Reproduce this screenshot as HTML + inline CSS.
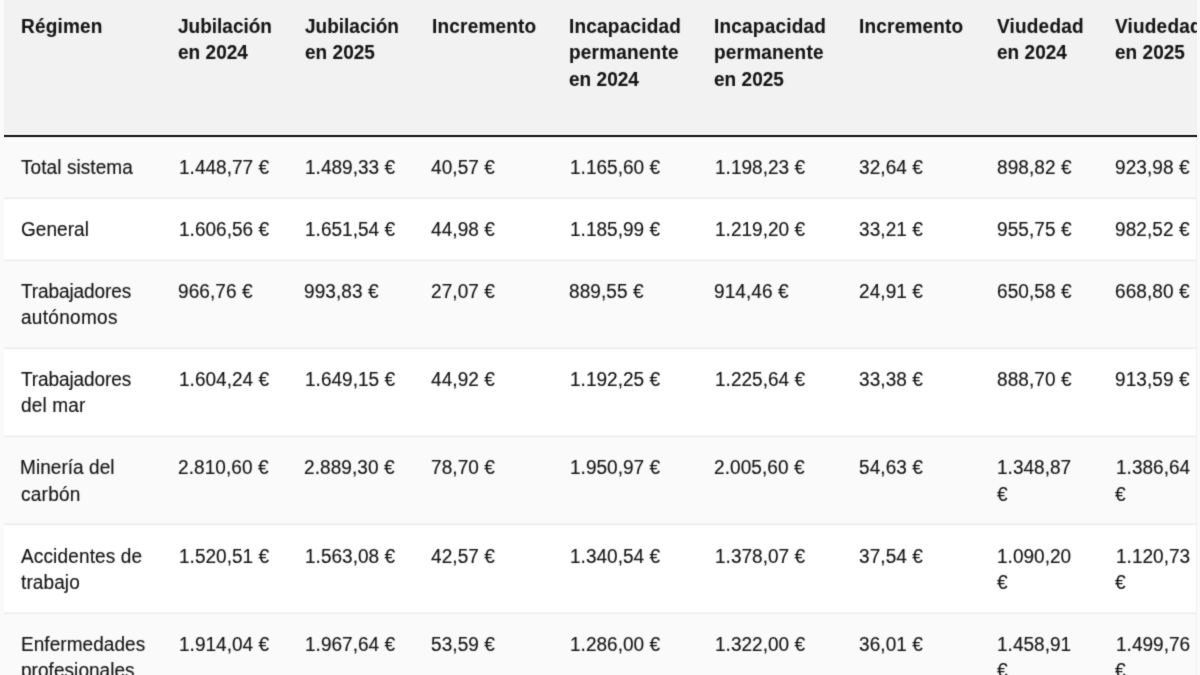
<!DOCTYPE html>
<html lang="es"><head><meta charset="utf-8"><title>Pensiones 2024-2025</title>
<style>
html,body{margin:0;padding:0;}
body{width:1200px;height:675px;overflow:hidden;background:#fafafa;position:relative;
font-family:"Liberation Sans",sans-serif;font-size:19.5px;line-height:28px;color:#141414;}
#t{position:absolute;left:4px;top:0;width:1193px;height:675px;overflow:hidden;background:#fff;filter:url(#soft);}
.hd{position:absolute;left:0;top:0;width:100%;height:131px;background:#f2f2f2;}
.rg{position:absolute;left:0;top:131px;width:100%;height:11px;background:linear-gradient(to bottom,#f6f6f6 0px,#f6f6f6 1px,#ececec 1px,#ececec 2px,#fdfdfd 2px,#fdfdfd 4px,#0a0a0a 4px,#0a0a0a 6px,#ffffff 6px,#ffffff 8px,#fcfcfc 8px,#fbfbfb 11px);}
.r{position:absolute;left:0;width:100%;}
.o{background:#fafafa;}
.e{background:#ffffff;}
.b{position:absolute;left:0;width:100%;height:3px;background:linear-gradient(to bottom,rgba(234,234,234,0) 0%,#eaeaea 38%,#eaeaea 62%,rgba(234,234,234,0) 100%);}
.rb{position:absolute;right:0;top:137px;width:1px;height:540px;background:#f2f2f2;}
.c{position:absolute;white-space:nowrap;height:28px;-webkit-text-stroke:0.15px #141414;transform:scaleX(0.9744);transform-origin:0 0;}
.h{font-weight:bold;color:#141414;-webkit-text-stroke:0.1px #141414;}

</style></head><body>
<svg width="0" height="0" style="position:absolute"><defs><filter id="soft" x="0" y="0" width="100%" height="100%" color-interpolation-filters="sRGB"><feConvolveMatrix order="3" kernelMatrix="0.3 1 0.3 1 6 1 0.3 1 0.3" divisor="11.2" edgeMode="duplicate" preserveAlpha="false"/></filter></defs></svg>
<div id="t">
<div class="hd"></div>
<div class="c h" style="left:16.50px;top:12px;letter-spacing:0.205px">Régimen</div>
<div class="c h" style="left:173.90px;top:12px">Jubilación</div>
<div class="c h" style="left:173.90px;top:38px;letter-spacing:0.031px">en 2024</div>
<div class="c h" style="left:300.50px;top:12px">Jubilación</div>
<div class="c h" style="left:300.50px;top:38px;letter-spacing:0.031px">en 2025</div>
<div class="c h" style="left:427.70px;top:12px;letter-spacing:0.205px">Incremento</div>
<div class="c h" style="left:564.90px;top:12px;letter-spacing:0.205px">Incapacidad</div>
<div class="c h" style="left:564.90px;top:38px;letter-spacing:0.205px">permanente</div>
<div class="c h" style="left:564.90px;top:65px;letter-spacing:0.031px">en 2024</div>
<div class="c h" style="left:709.60px;top:12px;letter-spacing:0.205px">Incapacidad</div>
<div class="c h" style="left:709.60px;top:38px;letter-spacing:0.205px">permanente</div>
<div class="c h" style="left:709.60px;top:65px;letter-spacing:0.031px">en 2025</div>
<div class="c h" style="left:855.40px;top:12px;letter-spacing:0.205px">Incremento</div>
<div class="c h" style="left:992.50px;top:12px;letter-spacing:0.205px">Viudedad</div>
<div class="c h" style="left:992.50px;top:38px;letter-spacing:0.031px">en 2024</div>
<div class="c h" style="left:1110.80px;top:12px;letter-spacing:0.205px">Viudedad</div>
<div class="c h" style="left:1110.80px;top:38px;letter-spacing:0.031px">en 2025</div>
<div class="r o" style="top:137.0px;height:61.5px"></div>
<div class="b" style="top:196.5px"></div>
<div class="c" style="left:16.50px;top:153px;letter-spacing:0.082px">Total sistema</div>
<div class="c" style="left:174.90px;top:153px;letter-spacing:0.021px">1.448,77 €</div>
<div class="c" style="left:301.10px;top:153px;letter-spacing:0.021px">1.489,33 €</div>
<div class="c" style="left:427.30px;top:153px;letter-spacing:0.082px">40,57 €</div>
<div class="c" style="left:566.00px;top:153px;letter-spacing:0.021px">1.165,60 €</div>
<div class="c" style="left:710.90px;top:153px;letter-spacing:0.021px">1.198,23 €</div>
<div class="c" style="left:855.00px;top:153px;letter-spacing:0.082px">32,64 €</div>
<div class="c" style="left:992.60px;top:153px;letter-spacing:0.082px">898,82 €</div>
<div class="c" style="left:1111.00px;top:153px;letter-spacing:0.082px">923,98 €</div>
<div class="r e" style="top:198.5px;height:62.0px"></div>
<div class="b" style="top:258.5px"></div>
<div class="c" style="left:16.50px;top:215px;letter-spacing:0.051px">General</div>
<div class="c" style="left:174.90px;top:215px;letter-spacing:0.021px">1.606,56 €</div>
<div class="c" style="left:301.10px;top:215px;letter-spacing:0.021px">1.651,54 €</div>
<div class="c" style="left:427.30px;top:215px;letter-spacing:0.082px">44,98 €</div>
<div class="c" style="left:566.00px;top:215px;letter-spacing:0.021px">1.185,99 €</div>
<div class="c" style="left:710.90px;top:215px;letter-spacing:0.021px">1.219,20 €</div>
<div class="c" style="left:855.00px;top:215px;letter-spacing:0.082px">33,21 €</div>
<div class="c" style="left:992.60px;top:215px;letter-spacing:0.082px">955,75 €</div>
<div class="c" style="left:1111.00px;top:215px;letter-spacing:0.082px">982,52 €</div>
<div class="r o" style="top:260.5px;height:88.0px"></div>
<div class="b" style="top:346.5px"></div>
<div class="c" style="left:17.00px;top:277px;letter-spacing:-0.103px">Trabajadores</div>
<div class="c" style="left:17.00px;top:303px;letter-spacing:0.308px">autónomos</div>
<div class="c" style="left:174.00px;top:277px;letter-spacing:0.082px">966,76 €</div>
<div class="c" style="left:300.20px;top:277px;letter-spacing:0.082px">993,83 €</div>
<div class="c" style="left:427.30px;top:277px;letter-spacing:0.082px">27,07 €</div>
<div class="c" style="left:565.10px;top:277px;letter-spacing:0.082px">889,55 €</div>
<div class="c" style="left:710.00px;top:277px;letter-spacing:0.082px">914,46 €</div>
<div class="c" style="left:855.00px;top:277px;letter-spacing:0.082px">24,91 €</div>
<div class="c" style="left:992.60px;top:277px;letter-spacing:0.082px">650,58 €</div>
<div class="c" style="left:1111.00px;top:277px;letter-spacing:0.082px">668,80 €</div>
<div class="r e" style="top:348.5px;height:88.7px"></div>
<div class="b" style="top:435.2px"></div>
<div class="c" style="left:17.00px;top:365px;letter-spacing:-0.103px">Trabajadores</div>
<div class="c" style="left:17.00px;top:391px;letter-spacing:0.154px">del mar</div>
<div class="c" style="left:174.90px;top:365px;letter-spacing:0.021px">1.604,24 €</div>
<div class="c" style="left:301.10px;top:365px;letter-spacing:0.021px">1.649,15 €</div>
<div class="c" style="left:427.30px;top:365px;letter-spacing:0.082px">44,92 €</div>
<div class="c" style="left:566.00px;top:365px;letter-spacing:0.021px">1.192,25 €</div>
<div class="c" style="left:710.90px;top:365px;letter-spacing:0.021px">1.225,64 €</div>
<div class="c" style="left:855.00px;top:365px;letter-spacing:0.082px">33,38 €</div>
<div class="c" style="left:992.60px;top:365px;letter-spacing:0.082px">888,70 €</div>
<div class="c" style="left:1111.00px;top:365px;letter-spacing:0.082px">913,59 €</div>
<div class="r o" style="top:437.2px;height:88.2px"></div>
<div class="b" style="top:523.4px"></div>
<div class="c" style="left:16.40px;top:453px;letter-spacing:0.051px">Minería del</div>
<div class="c" style="left:17.00px;top:480px;letter-spacing:0.257px">carbón</div>
<div class="c" style="left:174.00px;top:453px;letter-spacing:0.082px">2.810,60 €</div>
<div class="c" style="left:300.20px;top:453px;letter-spacing:0.082px">2.889,30 €</div>
<div class="c" style="left:427.30px;top:453px;letter-spacing:0.082px">78,70 €</div>
<div class="c" style="left:566.00px;top:453px;letter-spacing:0.021px">1.950,97 €</div>
<div class="c" style="left:710.00px;top:453px;letter-spacing:0.082px">2.005,60 €</div>
<div class="c" style="left:855.00px;top:453px;letter-spacing:0.082px">54,63 €</div>
<div class="c" style="left:992.60px;top:453px;letter-spacing:0.021px">1.348,87</div>
<div class="c" style="left:992.60px;top:480px;letter-spacing:0.082px">€</div>
<div class="c" style="left:1111.90px;top:453px;letter-spacing:0.021px">1.386,64</div>
<div class="c" style="left:1111.00px;top:480px;letter-spacing:0.082px">€</div>
<div class="r e" style="top:525.4px;height:88.8px"></div>
<div class="b" style="top:612.2px"></div>
<div class="c" style="left:16.70px;top:542px;letter-spacing:0.154px">Accidentes de</div>
<div class="c" style="left:17.00px;top:568px;letter-spacing:0.103px">trabajo</div>
<div class="c" style="left:174.90px;top:542px;letter-spacing:0.021px">1.520,51 €</div>
<div class="c" style="left:301.10px;top:542px;letter-spacing:0.021px">1.563,08 €</div>
<div class="c" style="left:427.30px;top:542px;letter-spacing:0.082px">42,57 €</div>
<div class="c" style="left:566.00px;top:542px;letter-spacing:0.021px">1.340,54 €</div>
<div class="c" style="left:710.90px;top:542px;letter-spacing:0.021px">1.378,07 €</div>
<div class="c" style="left:855.00px;top:542px;letter-spacing:0.082px">37,54 €</div>
<div class="c" style="left:992.60px;top:542px;letter-spacing:0.021px">1.090,20</div>
<div class="c" style="left:992.60px;top:568px;letter-spacing:0.082px">€</div>
<div class="c" style="left:1111.90px;top:542px;letter-spacing:0.021px">1.120,73</div>
<div class="c" style="left:1111.00px;top:568px;letter-spacing:0.082px">€</div>
<div class="r o" style="top:614.2px;height:87.8px"></div>
<div class="b" style="top:700.0px"></div>
<div class="c" style="left:17.00px;top:630px;letter-spacing:0.051px">Enfermedades</div>
<div class="c" style="left:16.50px;top:656px;letter-spacing:0.051px">profesionales</div>
<div class="c" style="left:174.90px;top:630px;letter-spacing:0.021px">1.914,04 €</div>
<div class="c" style="left:301.10px;top:630px;letter-spacing:0.021px">1.967,64 €</div>
<div class="c" style="left:427.30px;top:630px;letter-spacing:0.082px">53,59 €</div>
<div class="c" style="left:566.00px;top:630px;letter-spacing:0.021px">1.286,00 €</div>
<div class="c" style="left:710.90px;top:630px;letter-spacing:0.021px">1.322,00 €</div>
<div class="c" style="left:855.00px;top:630px;letter-spacing:0.082px">36,01 €</div>
<div class="c" style="left:992.60px;top:630px;letter-spacing:0.021px">1.458,91</div>
<div class="c" style="left:992.60px;top:656px;letter-spacing:0.082px">€</div>
<div class="c" style="left:1111.90px;top:630px;letter-spacing:0.021px">1.499,76</div>
<div class="c" style="left:1111.00px;top:656px;letter-spacing:0.082px">€</div>
<div class="rg"></div>
<div class="rb"></div>
</div>
</body></html>
